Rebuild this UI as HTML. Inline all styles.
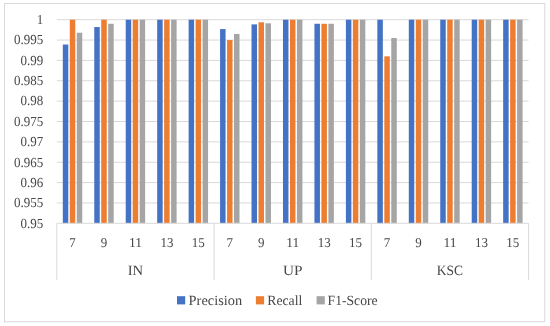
<!DOCTYPE html><html><head><meta charset="utf-8"><style>html,body{margin:0;padding:0;background:#fff;width:550px;height:326px;overflow:hidden}svg{display:block}text{font-family:"Liberation Serif",serif;fill:#484848;text-rendering:geometricPrecision}</style></head><body>
<svg width="550" height="326" viewBox="0 0 550 326" xmlns="http://www.w3.org/2000/svg">
<rect x="0" y="0" width="550" height="326" fill="#fff"/>
<rect x="4.5" y="3.5" width="540.3" height="318.3" fill="none" stroke="#D9D9D9" stroke-width="1"/>
<line x1="56.8" y1="19.70" x2="528.6" y2="19.70" stroke="#D9D9D9" stroke-width="1"/>
<line x1="56.8" y1="40.06" x2="528.6" y2="40.06" stroke="#D9D9D9" stroke-width="1"/>
<line x1="56.8" y1="60.42" x2="528.6" y2="60.42" stroke="#D9D9D9" stroke-width="1"/>
<line x1="56.8" y1="80.78" x2="528.6" y2="80.78" stroke="#D9D9D9" stroke-width="1"/>
<line x1="56.8" y1="101.14" x2="528.6" y2="101.14" stroke="#D9D9D9" stroke-width="1"/>
<line x1="56.8" y1="121.50" x2="528.6" y2="121.50" stroke="#D9D9D9" stroke-width="1"/>
<line x1="56.8" y1="141.86" x2="528.6" y2="141.86" stroke="#D9D9D9" stroke-width="1"/>
<line x1="56.8" y1="162.22" x2="528.6" y2="162.22" stroke="#D9D9D9" stroke-width="1"/>
<line x1="56.8" y1="182.58" x2="528.6" y2="182.58" stroke="#D9D9D9" stroke-width="1"/>
<line x1="56.8" y1="202.94" x2="528.6" y2="202.94" stroke="#D9D9D9" stroke-width="1"/>
<text x="43.3" y="24" font-size="13.8" text-anchor="end" textLength="6.50" lengthAdjust="spacingAndGlyphs">1</text>
<text x="43.3" y="44" font-size="13.8" text-anchor="end" textLength="29.25" lengthAdjust="spacingAndGlyphs">0.995</text>
<text x="43.3" y="65" font-size="13.8" text-anchor="end" textLength="22.75" lengthAdjust="spacingAndGlyphs">0.99</text>
<text x="43.3" y="85" font-size="13.8" text-anchor="end" textLength="29.25" lengthAdjust="spacingAndGlyphs">0.985</text>
<text x="43.3" y="105" font-size="13.8" text-anchor="end" textLength="22.75" lengthAdjust="spacingAndGlyphs">0.98</text>
<text x="43.3" y="126" font-size="13.8" text-anchor="end" textLength="29.25" lengthAdjust="spacingAndGlyphs">0.975</text>
<text x="43.3" y="146" font-size="13.8" text-anchor="end" textLength="22.75" lengthAdjust="spacingAndGlyphs">0.97</text>
<text x="43.3" y="167" font-size="13.8" text-anchor="end" textLength="29.25" lengthAdjust="spacingAndGlyphs">0.965</text>
<text x="43.3" y="187" font-size="13.8" text-anchor="end" textLength="22.75" lengthAdjust="spacingAndGlyphs">0.96</text>
<text x="43.3" y="207" font-size="13.8" text-anchor="end" textLength="29.25" lengthAdjust="spacingAndGlyphs">0.955</text>
<text x="43.3" y="228" font-size="13.8" text-anchor="end" textLength="22.75" lengthAdjust="spacingAndGlyphs">0.95</text>
<rect x="62.81" y="44.54" width="5.49" height="178.76" fill="#4472C4"/>
<rect x="69.78" y="19.70" width="5.49" height="203.60" fill="#ED7D31"/>
<rect x="76.75" y="32.73" width="5.49" height="190.57" fill="#A5A5A5"/>
<rect x="94.26" y="27.03" width="5.49" height="196.27" fill="#4472C4"/>
<rect x="101.24" y="19.70" width="5.49" height="203.60" fill="#ED7D31"/>
<rect x="108.21" y="23.77" width="5.49" height="199.53" fill="#A5A5A5"/>
<rect x="125.72" y="19.70" width="5.49" height="203.60" fill="#4472C4"/>
<rect x="132.69" y="19.70" width="5.49" height="203.60" fill="#ED7D31"/>
<rect x="139.66" y="19.70" width="5.49" height="203.60" fill="#A5A5A5"/>
<rect x="157.17" y="19.70" width="5.49" height="203.60" fill="#4472C4"/>
<rect x="164.14" y="19.70" width="5.49" height="203.60" fill="#ED7D31"/>
<rect x="171.11" y="19.70" width="5.49" height="203.60" fill="#A5A5A5"/>
<rect x="188.62" y="19.70" width="5.49" height="203.60" fill="#4472C4"/>
<rect x="195.60" y="19.70" width="5.49" height="203.60" fill="#ED7D31"/>
<rect x="202.57" y="19.70" width="5.49" height="203.60" fill="#A5A5A5"/>
<rect x="220.08" y="29.07" width="5.49" height="194.23" fill="#4472C4"/>
<rect x="227.05" y="40.06" width="5.49" height="183.24" fill="#ED7D31"/>
<rect x="234.02" y="33.95" width="5.49" height="189.35" fill="#A5A5A5"/>
<rect x="251.53" y="24.38" width="5.49" height="198.92" fill="#4472C4"/>
<rect x="258.50" y="22.31" width="5.49" height="200.99" fill="#ED7D31"/>
<rect x="265.47" y="23.28" width="5.49" height="200.02" fill="#A5A5A5"/>
<rect x="282.98" y="19.70" width="5.49" height="203.60" fill="#4472C4"/>
<rect x="289.96" y="19.70" width="5.49" height="203.60" fill="#ED7D31"/>
<rect x="296.93" y="19.70" width="5.49" height="203.60" fill="#A5A5A5"/>
<rect x="314.44" y="23.77" width="5.49" height="199.53" fill="#4472C4"/>
<rect x="321.41" y="23.77" width="5.49" height="199.53" fill="#ED7D31"/>
<rect x="328.38" y="23.77" width="5.49" height="199.53" fill="#A5A5A5"/>
<rect x="345.89" y="19.70" width="5.49" height="203.60" fill="#4472C4"/>
<rect x="352.86" y="19.70" width="5.49" height="203.60" fill="#ED7D31"/>
<rect x="359.83" y="19.70" width="5.49" height="203.60" fill="#A5A5A5"/>
<rect x="377.34" y="19.70" width="5.49" height="203.60" fill="#4472C4"/>
<rect x="384.32" y="56.35" width="5.49" height="166.95" fill="#ED7D31"/>
<rect x="391.29" y="38.02" width="5.49" height="185.28" fill="#A5A5A5"/>
<rect x="408.80" y="19.70" width="5.49" height="203.60" fill="#4472C4"/>
<rect x="415.77" y="19.70" width="5.49" height="203.60" fill="#ED7D31"/>
<rect x="422.74" y="19.70" width="5.49" height="203.60" fill="#A5A5A5"/>
<rect x="440.25" y="19.70" width="5.49" height="203.60" fill="#4472C4"/>
<rect x="447.22" y="19.70" width="5.49" height="203.60" fill="#ED7D31"/>
<rect x="454.19" y="19.70" width="5.49" height="203.60" fill="#A5A5A5"/>
<rect x="471.70" y="19.70" width="5.49" height="203.60" fill="#4472C4"/>
<rect x="478.68" y="19.70" width="5.49" height="203.60" fill="#ED7D31"/>
<rect x="485.65" y="19.70" width="5.49" height="203.60" fill="#A5A5A5"/>
<rect x="503.16" y="19.70" width="5.49" height="203.60" fill="#4472C4"/>
<rect x="510.13" y="19.70" width="5.49" height="203.60" fill="#ED7D31"/>
<rect x="517.10" y="19.70" width="5.49" height="203.60" fill="#A5A5A5"/>
<line x1="56.8" y1="223.30" x2="528.6" y2="223.30" stroke="#D9D9D9" stroke-width="1"/>
<line x1="56.80" y1="223.30" x2="56.80" y2="280" stroke="#D9D9D9" stroke-width="1"/>
<line x1="214.07" y1="223.30" x2="214.07" y2="280" stroke="#D9D9D9" stroke-width="1"/>
<line x1="371.33" y1="223.30" x2="371.33" y2="280" stroke="#D9D9D9" stroke-width="1"/>
<line x1="528.60" y1="223.30" x2="528.60" y2="280" stroke="#D9D9D9" stroke-width="1"/>
<text x="72.53" y="247.3" font-size="13.5" text-anchor="middle" textLength="6.50" lengthAdjust="spacingAndGlyphs">7</text>
<text x="103.98" y="247.3" font-size="13.5" text-anchor="middle" textLength="6.50" lengthAdjust="spacingAndGlyphs">9</text>
<text x="135.43" y="247.3" font-size="13.5" text-anchor="middle" textLength="13.00" lengthAdjust="spacingAndGlyphs">11</text>
<text x="166.89" y="247.3" font-size="13.5" text-anchor="middle" textLength="13.00" lengthAdjust="spacingAndGlyphs">13</text>
<text x="198.34" y="247.3" font-size="13.5" text-anchor="middle" textLength="13.00" lengthAdjust="spacingAndGlyphs">15</text>
<text x="229.79" y="247.3" font-size="13.5" text-anchor="middle" textLength="6.50" lengthAdjust="spacingAndGlyphs">7</text>
<text x="261.25" y="247.3" font-size="13.5" text-anchor="middle" textLength="6.50" lengthAdjust="spacingAndGlyphs">9</text>
<text x="292.70" y="247.3" font-size="13.5" text-anchor="middle" textLength="13.00" lengthAdjust="spacingAndGlyphs">11</text>
<text x="324.15" y="247.3" font-size="13.5" text-anchor="middle" textLength="13.00" lengthAdjust="spacingAndGlyphs">13</text>
<text x="355.61" y="247.3" font-size="13.5" text-anchor="middle" textLength="13.00" lengthAdjust="spacingAndGlyphs">15</text>
<text x="387.06" y="247.3" font-size="13.5" text-anchor="middle" textLength="6.50" lengthAdjust="spacingAndGlyphs">7</text>
<text x="418.51" y="247.3" font-size="13.5" text-anchor="middle" textLength="6.50" lengthAdjust="spacingAndGlyphs">9</text>
<text x="449.97" y="247.3" font-size="13.5" text-anchor="middle" textLength="13.00" lengthAdjust="spacingAndGlyphs">11</text>
<text x="481.42" y="247.3" font-size="13.5" text-anchor="middle" textLength="13.00" lengthAdjust="spacingAndGlyphs">13</text>
<text x="512.87" y="247.3" font-size="13.5" text-anchor="middle" textLength="13.00" lengthAdjust="spacingAndGlyphs">15</text>
<text x="135.43" y="275" font-size="14.2" text-anchor="middle" textLength="15.5" lengthAdjust="spacingAndGlyphs">IN</text>
<text x="292.70" y="275" font-size="14.2" text-anchor="middle" textLength="19.5" lengthAdjust="spacingAndGlyphs">UP</text>
<text x="449.97" y="275" font-size="14.2" text-anchor="middle" textLength="26.3" lengthAdjust="spacingAndGlyphs">KSC</text>
<rect x="177" y="296.2" width="8.2" height="8.2" fill="#4472C4"/>
<text x="188.6" y="304.6" font-size="14.1" textLength="53.5" lengthAdjust="spacingAndGlyphs">Precision</text>
<rect x="255.9" y="296.2" width="8.2" height="8.2" fill="#ED7D31"/>
<text x="267.2" y="304.6" font-size="14.1" textLength="35.2" lengthAdjust="spacingAndGlyphs">Recall</text>
<rect x="316.6" y="296.2" width="8.2" height="8.2" fill="#A5A5A5"/>
<text x="327.6" y="304.6" font-size="14.1" textLength="50" lengthAdjust="spacingAndGlyphs">F1-Score</text>
</svg></body></html>
